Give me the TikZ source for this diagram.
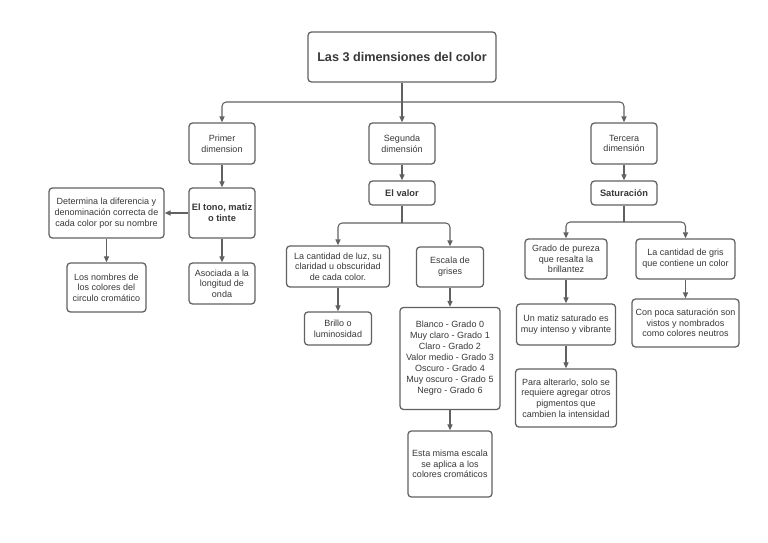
\documentclass[tikz,border=0pt]{standalone}
\usepackage{fontspec}
\setmainfont{Liberation Sans}
\usetikzlibrary{arrows.meta}
\definecolor{linegray}{HTML}{616161}
\definecolor{txtgray}{HTML}{383838}
\begin{document}
\begin{tikzpicture}[x=0.025cm,y=-0.025cm,
    box/.style={draw=linegray,line width=0.9pt,rounded corners=2.5pt,fill=white,align=center,inner sep=1pt,text=txtgray,font=\fontsize{6.4}{7.6}\selectfont},
    boldbox/.style={box,font=\fontsize{6.6}{7.9}\selectfont\bfseries},
    conn/.style={draw=linegray,line width=0.75pt,rounded corners=3pt,-{Triangle[length=4.2pt,width=3.6pt]}},
    wire/.style={draw=linegray,line width=0.75pt}]
  \useasboundingbox (0,0) rectangle (768,543);

  \node[box,minimum width=133.7pt,minimum height=35.6pt,font=\fontsize{9}{11}\selectfont\bfseries] (title) at (402,57) {Las 3 dimensiones del color};

  \node[box,minimum width=46.9pt,minimum height=29.2pt] (prim) at (222,143.5) {Primer\\dimension};
  \node[box,minimum width=46.9pt,minimum height=29.2pt] (seg) at (402,143.5) {Segunda\\dimensión};
  \node[box,minimum width=46.9pt,minimum height=29.2pt] (ter) at (624,143.5) {Tercera\\dimensión};

  \node[boldbox,minimum width=46.9pt,minimum height=35.6pt] (tono) at (222,213) {El tono, matiz\\o tinte};
  \node[boldbox,minimum width=46.9pt,minimum height=17.1pt] (valor) at (402,193) {El valor};
  \node[boldbox,minimum width=46.9pt,minimum height=17.1pt] (satur) at (624,193) {Saturación};

  \node[box,minimum width=81.8pt,minimum height=35.6pt] (determ) at (106.5,213) {Determina la diferencia y\\denominación correcta de\\cada color por su nombre};
  \node[box,minimum width=56.2pt,minimum height=34.9pt] (nombres) at (106.5,287.5) {Los nombres de\\los colores del\\circulo cromático};
  \node[box,minimum width=46.9pt,minimum height=29.2pt] (asoc) at (222,283.5) {Asociada a la\\longitud de\\onda};

  \node[box,minimum width=73.3pt,minimum height=29.2pt] (luz) at (338,266.5) {La cantidad de luz, su\\claridad u obscuridad\\de cada color.};
  \node[box,minimum width=47.7pt,minimum height=23.5pt] (brillo) at (338,328.5) {Brillo o\\luminosidad};
  \node[box,minimum width=47.7pt,minimum height=28.5pt] (escala) at (450,267) {Escala de\\grises};
  \node[box,minimum width=71.1pt,minimum height=72.6pt,font=\fontsize{6.4}{7.85}\selectfont] (grados) at (450,358.5) {Blanco - Grado 0\\Muy claro - Grado 1\\Claro - Grado 2\\Valor medio - Grado 3\\Oscuro - Grado 4\\Muy oscuro - Grado 5\\Negro - Grado 6};
  \node[box,minimum width=59.8pt,minimum height=47pt] (misma) at (450,464) {Esta misma escala\\se aplica a los\\colores cromáticos};

  \node[box,minimum width=58.3pt,minimum height=28.5pt] (pureza) at (566,259) {Grado de pureza\\que resalta la\\brillantez};
  \node[box,minimum width=70.4pt,minimum height=28.5pt] (gris) at (685.5,259) {La cantidad de gris\\que contiene un color};
  \node[box,minimum width=70.4pt,minimum height=29.2pt] (matiz) at (566,324.5) {Un matiz saturado es\\muy intenso y vibrante};
  \node[box,minimum width=76.1pt,minimum height=34.1pt] (poca) at (685.5,323) {Con poca saturación son\\vistos y nombrados\\como colores neutros};
  \node[box,minimum width=71.8pt,minimum height=41.3pt] (alterar) at (566,398) {Para alterarlo, solo se\\requiere agregar otros\\pigmentos que\\cambien la intensidad};

  \coordinate (f1) at (402,102);
  \coordinate (f2) at (402,223);
  \coordinate (f3) at (624,222);

  \draw[wire] (title.south) -- (f1);
  \draw[conn] (f1) -| (prim.north);
  \draw[conn] (f1) -- (seg.north);
  \draw[conn] (f1) -| (ter.north);

  \draw[conn] (prim) -- (tono);
  \draw[conn] (tono) -- (determ);
  \draw[conn] (determ) -- (nombres);
  \draw[conn] (tono) -- (asoc);

  \draw[conn] (seg) -- (valor);
  \draw[wire] (valor.south) -- (f2);
  \draw[conn] (f2) -| (luz.north);
  \draw[conn] (f2) -| (escala.north);
  \draw[conn] (luz) -- (brillo);
  \draw[conn] (escala) -- (grados);
  \draw[conn] (grados) -- (misma);

  \draw[conn] (ter) -- (satur);
  \draw[wire] (satur.south) -- (f3);
  \draw[conn] (f3) -| (pureza.north);
  \draw[conn] (f3) -| (gris.north);
  \draw[conn] (pureza) -- (matiz);
  \draw[conn] (matiz) -- (alterar);
  \draw[conn] (gris) -- (poca);
\end{tikzpicture}
\end{document}
